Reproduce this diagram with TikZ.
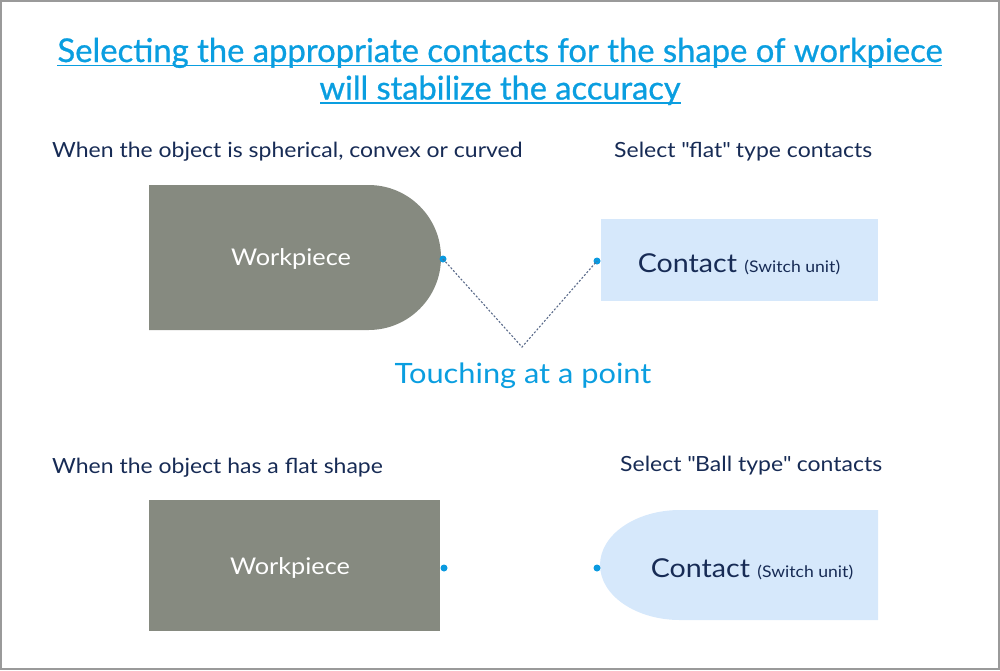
\documentclass[tikz,border=0pt]{standalone}
\usepackage{fontspec}
\setmainfont{Lato}[FakeStretch=1.1]
\newfontfamily\titlefont{Lato}[FakeBold=0.8]
\usetikzlibrary{calc}
\definecolor{ttl}{HTML}{0A9EE0}
\definecolor{navy}{HTML}{172B55}
\definecolor{wpgray}{HTML}{868A80}
\definecolor{ctblue}{HTML}{D6E8FB}
\definecolor{dotblue}{HTML}{0A9AE0}
\definecolor{lnk}{HTML}{5A6A8A}
\definecolor{frame}{HTML}{9A9A9A}
\tikzset{
  lbl/.style={text=navy, font=\fontsize{20.9}{24}\selectfont, anchor=base west, inner sep=0},
  wptext/.style={text=white, font=\fontsize{23}{26}\selectfont, inner sep=0, anchor=base},
  cttext/.style={text=navy, inner sep=0, anchor=base},
  pt/.style={circle, fill=dotblue, inner sep=0, minimum size=7pt},
  link/.style={lnk, line width=1.1pt, dash pattern=on 2pt off 1.8pt},
}
\begin{document}
\begin{tikzpicture}[x=1pt,y=-1pt]
\useasboundingbox (0,0) rectangle (1000,670);
\draw[frame, line width=2pt] (1,1) rectangle (999,669);
% title
\node[text=ttl, inner sep=0, anchor=base] (t1) at (500,62) {\resizebox{885pt}{!}{\titlefont\fontsize{28}{30}\selectfont Selecting the appropriate contacts for the shape of workpiece}};
\node[text=ttl, inner sep=0, anchor=base] (t2) at (500,99.5) {\resizebox{361pt}{!}{\titlefont\fontsize{28}{30}\selectfont will stabilize the accuracy}};
\draw[ttl, line width=1.4pt] (57,65.5) -- (942,65.5);
\draw[ttl, line width=1.4pt] (320,103) -- (681,103);
% labels
\node[lbl] (l1) at (52,157.5) {When the object is spherical, convex or curved};
\node[lbl] (r1) at (614,157.5) {Select \textquotedbl flat\textquotedbl\ type contacts};
\node[lbl] (l2) at (52,473) {When the object has a flat shape};
\node[lbl] (r2) at (620,471) {Select \textquotedbl Ball type\textquotedbl\ contacts};
% row 1
\fill[wpgray] (149,185) -- (368.5,185) arc[start angle=-90, end angle=90, radius=72.5] -- (149,330) -- cycle;
\node[wptext] (w1) at (291,265) {Workpiece};
\fill[ctblue] (601,219) rectangle (878,301);
\node[cttext] (c1) at (739,272) {\fontsize{26}{28}\selectfont Contact \fontsize{16}{18}\selectfont(Switch unit)};
\node[pt] (p1) at (443,259) {};
\node[pt] (p2) at (597,261) {};
\coordinate (v) at (522,347);
\draw[link] (p1.center) -- (v) -- (p2.center);
\node[text=ttl, inner sep=0, anchor=base, font=\fontsize{28}{30}\selectfont] (tp) at (523,383) {Touching at a point};
% row 2
\fill[wpgray] (149,500) rectangle (440,631);
\node[wptext] (w2) at (290,574) {Workpiece};
\fill[ctblue] (878,510) -- (680,510) arc[start angle=-90, end angle=-270, x radius=80, y radius=55] -- (878,620) -- cycle;
\node[cttext] (c2) at (752,577) {\fontsize{26}{28}\selectfont Contact \fontsize{16}{18}\selectfont(Switch unit)};
\node[pt] (p3) at (444,568) {};
\node[pt] (p4) at (597,568) {};
\end{tikzpicture}
\end{document}
